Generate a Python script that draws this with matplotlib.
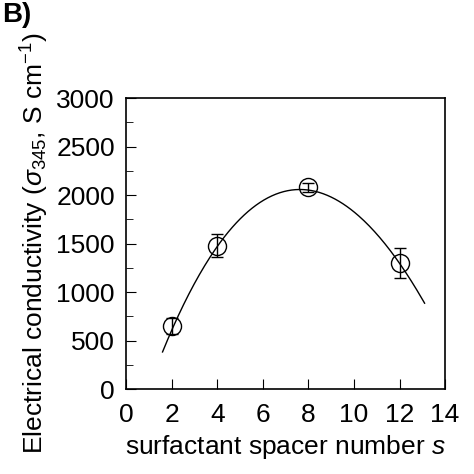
import numpy as np
import matplotlib
matplotlib.use('Agg')
import matplotlib.pyplot as plt
from matplotlib.ticker import MultipleLocator

plt.rcParams['font.family'] = ['Liberation Sans', 'DejaVu Sans']
plt.rcParams['mathtext.fontset'] = 'custom'
plt.rcParams['mathtext.rm'] = 'Liberation Sans'
plt.rcParams['mathtext.it'] = 'Liberation Sans:italic'

# measured points
spacer = [2, 4, 8, 12]
sigma = [650, 1480, 2080, 1300]
sigma_err = [80, 120, 50, 150]

# points
curve_x = [1.6, 4, 6, 8, 10, 12, 13.1]
curve_y = [390, 1450, 1950, 2080, 1800, 1300, 890]

coef = np.polyfit(curve_x, curve_y, 3)
xs = np.linspace(curve_x[0], curve_x[-1], 200)

fig = plt.figure(figsize=(4.74, 4.74), dpi=100)
ax = fig.add_axes([0.266, 0.179, 0.673, 0.614])

ax.plot(xs, np.polyval(coef, xs), color='black', lw=1)
ax.errorbar(spacer, sigma, yerr=sigma_err, fmt='o', mfc='none', mec='black',
            ms=13, mew=1, ecolor='black', elinewidth=1, capsize=4, color='black')

ax.set_xlim(0, 14)
ax.set_ylim(0, 3000)
ax.xaxis.set_major_locator(MultipleLocator(2))
ax.yaxis.set_major_locator(MultipleLocator(500))
ax.yaxis.set_minor_locator(MultipleLocator(250))
ax.tick_params(which='both', direction='in', labelsize=19, top=False, right=False)
ax.tick_params(which='major', length=7)
ax.tick_params(axis='x', pad=10)
ax.tick_params(axis='y', pad=8)
ax.tick_params(which='minor', length=5)
for s in ax.spines.values():
    s.set_linewidth(1.2)

ax.set_xlabel('surfactant spacer number $\\mathit{s}$', fontsize=19, labelpad=4)
ax.set_ylabel('Electrical conductivity ($\\sigma_{345}$, S cm$^{-1}$)', fontsize=19, labelpad=4)
fig.text(0.005, 0.995, 'B)', fontsize=20, fontweight='bold', ha='left', va='top')

fig.savefig('out.png', dpi=100)
